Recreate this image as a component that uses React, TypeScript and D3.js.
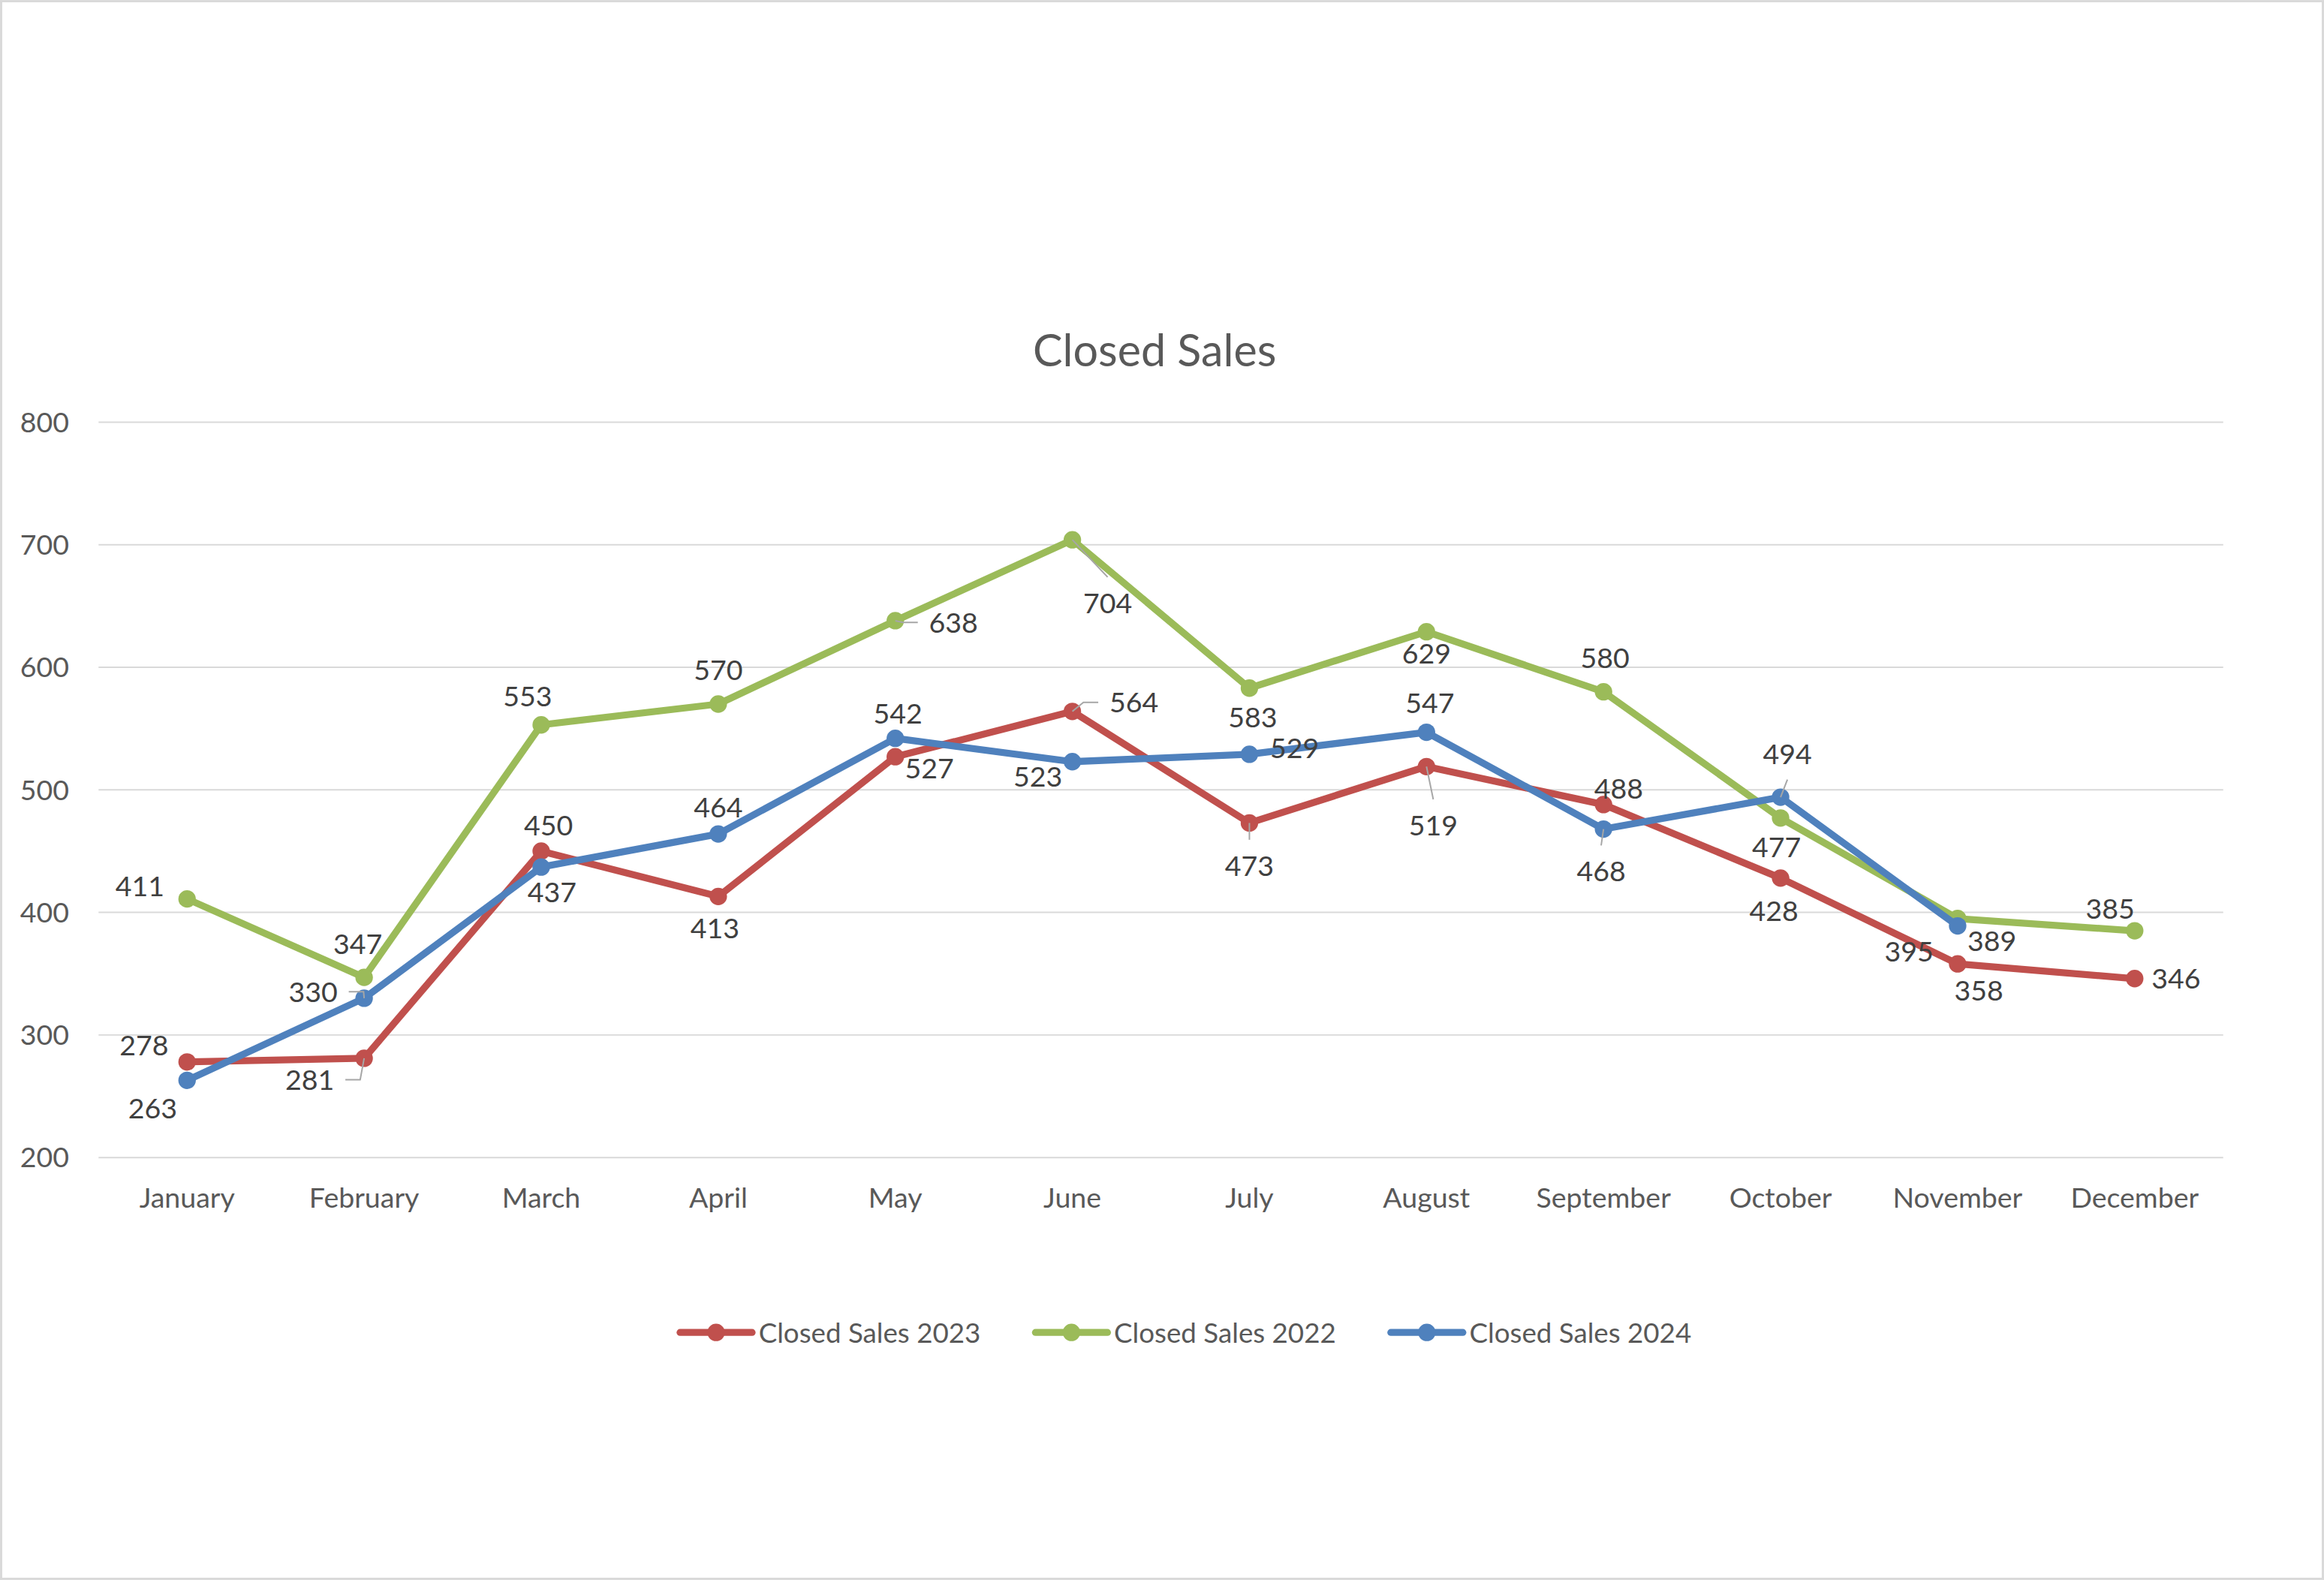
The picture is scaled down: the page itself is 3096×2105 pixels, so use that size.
import * as d3 from "d3";
import React, { Component } from "react";

const months = [
  "January",
  "February",
  "March",
  "April",
  "May",
  "June",
  "July",
  "August",
  "September",
  "October",
  "November",
  "December",
];
const sales2023 = [278, 281, 450, 413, 527, 564, 473, 519, 488, 428, 358, 346];
const sales2022 = [411, 347, 553, 570, 638, 704, 583, 629, 580, 477, 395, 385];
const sales2024 = [263, 330, 437, 464, 542, 523, 529, 547, 468, 494, 389];
const yTicks = [200, 300, 400, 500, 600, 700, 800];
const seriesNames = ["Closed Sales 2023", "Closed Sales 2022", "Closed Sales 2024"];
const seriesColors = ["#C0504D", "#9BBB59", "#4F81BD"];

// where Excel put each data label, relative to its point (drawing units)
const labelPos2023 = [
  [-29, -11.3], [-36.7, 14.5], [4.9, -17.4], [-2.3, 21.1], [23, 7.6], [41.5, -6.1],
  [0, 28.7], [4.6, 39.5], [10.2, -11], [-4.5, 21.9], [14.3, 17.7], [27.9, 0],
];
const labelPos2022 = [
  [-31.8, -8.7], [-4.3, -22.6], [-9.2, -19.4], [0, -22.8], [39.2, 1.2], [23.8, 42.5],
  [2.3, 19.4], [0, 14.7], [1, -22.8], [-2.7, 19.4], [-32.8, 21.9], [-16.6, -15.1],
];
const labelPos2024 = [
  [-23.2, 19], [-34.4, -4.4], [7.3, 16.9], [0, -18.1], [1.7, -16.9], [-23.3, 9.8],
  [30.5, -4.2], [2.3, -19.9], [-1.6, 28.4], [4.6, -29.2], [23.1, 10.1],
];
const leaders2023 = [false, true, false, false, false, true, true, true, false, false, false, false];
const leaders2022 = [false, false, false, false, true, true, false, false, false, false, false, false];
const leaders2024 = [false, true, false, false, false, false, false, false, true, true, false];

const W = 1568;
const H = 1066;
const FONT = "Lato, 'Open Sans', sans-serif";

export default class App extends Component {
  chartRef: any;
  componentDidMount(): void {
    document.body.style.margin = "0";
    document.body.style.overflow = "hidden";

    const chart = d3.select(this.chartRef);
    chart.selectAll("*").remove();
    chart
      .attr("viewBox", `0 0 ${W} ${H}`)
      .attr("width", 3096)
      .attr("height", 2105)
      .style("display", "block");

    chart
      .append("rect")
      .attr("x", 0.75)
      .attr("y", 0.75)
      .attr("width", W - 1.5)
      .attr("height", H - 1.5)
      .attr("fill", "#fff")
      .attr("stroke", "#d9d9d9")
      .attr("stroke-width", 1.5);

    const xScale = d3.scalePoint().domain(months).range([66.5, 1500]).padding(0.5);
    const yScale = d3.scaleLinear().domain([200, 800]).range([781, 284.8]);

    // title
    chart
      .append("text")
      .text("Closed Sales")
      .attr("x", 779)
      .attr("y", 247)
      .attr("text-anchor", "middle")
      .attr("font-family", FONT)
      .attr("font-size", 30)
      .attr("fill", "#595959");

    // gridlines + y labels
    const grid = chart.append("g");
    grid
      .selectAll("line")
      .data(yTicks)
      .enter()
      .append("line")
      .attr("x1", 66.5)
      .attr("x2", 1500)
      .attr("y1", (d) => yScale(d))
      .attr("y2", (d) => yScale(d))
      .attr("stroke", "#d9d9d9")
      .attr("stroke-width", 1);
    grid
      .selectAll("text")
      .data(yTicks)
      .enter()
      .append("text")
      .text((d) => d)
      .attr("x", 46.6)
      .attr("y", (d) => yScale(d) + 6.7)
      .attr("text-anchor", "end")
      .attr("font-family", FONT)
      .attr("font-size", 19)
      .attr("fill", "#595959");

    // x labels
    chart
      .append("g")
      .selectAll("text")
      .data(months)
      .enter()
      .append("text")
      .text((d) => d)
      .attr("x", (d) => xScale(d) as number)
      .attr("y", 815)
      .attr("text-anchor", "middle")
      .attr("font-family", FONT)
      .attr("font-size", 19)
      .attr("fill", "#595959");

    const allSeries = [sales2023, sales2022, sales2024];
    const allPos = [labelPos2023, labelPos2022, labelPos2024];
    const allLeaders = [leaders2023, leaders2022, leaders2024];

    const line = d3
      .line<number>()
      .x((d, i) => xScale(months[i]) as number)
      .y((d) => yScale(d));

    const plot = chart.append("g");
    allSeries.forEach((values, s) => {
      plot
        .append("path")
        .attr("d", line(values))
        .attr("fill", "none")
        .attr("stroke", seriesColors[s])
        .attr("stroke-width", 4.7)
        .attr("stroke-linejoin", "round")
        .attr("stroke-linecap", "round");
      plot
        .append("g")
        .selectAll("circle")
        .data(values)
        .enter()
        .append("circle")
        .attr("cx", (d, i) => xScale(months[i]) as number)
        .attr("cy", (d) => yScale(d))
        .attr("r", 5.9)
        .attr("fill", seriesColors[s]);
    });

    // data labels with leader lines
    const leaderLayer = chart.append("g");
    const labelLayer = chart.append("g");
    const fs = 19;
    const capH = 0.72 * fs;
    allSeries.forEach((values, s) => {
      values.forEach((v, i) => {
        const px = xScale(months[i]) as number;
        const py = yScale(v);
        const cx = px + allPos[s][i][0];
        const cy = py + allPos[s][i][1];
        const t = labelLayer
          .append("text")
          .text(v)
          .attr("x", cx)
          .attr("y", cy + capH / 2)
          .attr("text-anchor", "middle")
          .attr("font-family", FONT)
          .attr("font-size", fs)
          .attr("fill", "#404040");
        if (!allLeaders[s][i]) return;
        const w = (t.node() as SVGTextElement).getComputedTextLength();
        const dx = cx - px;
        const dy = cy - py;
        let pts: [number, number][];
        if (Math.abs(dx) > Math.abs(dy)) {
          const sg = Math.sign(dx);
          const endX = cx - sg * (w / 2 + 7.5);
          pts = [
            [px, py],
            [endX - sg * 10, cy],
            [endX, cy],
          ];
        } else {
          const sg = Math.sign(dy);
          pts = [
            [px, py],
            [cx, cy - sg * (capH / 2 + 10.5)],
          ];
        }
        leaderLayer
          .append("path")
          .attr("d", d3.line()(pts))
          .attr("fill", "none")
          .attr("stroke", "#a6a6a6")
          .attr("stroke-width", 1);
      });
    });

    // legend
    const legend = chart.append("g");
    let lx = 0;
    seriesNames.forEach((name, s) => {
      const item = legend.append("g").attr("transform", `translate(${lx},0)`);
      item
        .append("line")
        .attr("x1", 0)
        .attr("x2", 48.6)
        .attr("stroke", seriesColors[s])
        .attr("stroke-width", 4.7)
        .attr("stroke-linecap", "round");
      item.append("circle").attr("cx", 24.3).attr("r", 5.9).attr("fill", seriesColors[s]);
      const t = item
        .append("text")
        .text(name)
        .attr("x", 53)
        .attr("y", 6.8)
        .attr("font-family", FONT)
        .attr("font-size", 18.6)
        .attr("fill", "#595959");
      lx += 53 + (t.node() as SVGTextElement).getComputedTextLength() + 37;
    });
    const legendW = lx - 37;
    legend.attr("transform", `translate(${800 - legendW / 2},899)`);
  }
  render() {
    return <svg ref={(r) => (this.chartRef = r)}></svg>;
  }
}
